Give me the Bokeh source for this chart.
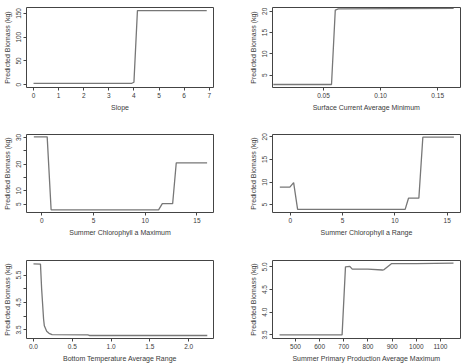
from bokeh.plotting import figure
from bokeh.models import Range1d, FixedTicker, NumeralTickFormatter
from bokeh.layouts import column, row
from bokeh.embed import file_html
from bokeh.resources import INLINE

# ---------------- data ----------------
ylabel = "Predicted Biomass (kg)"

slope_x = [0.0, 3.9, 4.0, 4.14, 6.9]
slope_y = [2.5, 2.5, 5.0, 156.0, 156.0]

scur_x = [0.006, 0.057, 0.0603, 0.063, 0.164]
scur_y = [2.8, 2.8, 20.3, 20.6, 20.7]

chlmax_x = [-0.77, 0.52, 0.9, 11.29, 11.65, 12.65, 13.0, 15.98]
chlmax_y = [30.2, 30.2, 2.9, 2.9, 5.2, 5.2, 20.5, 20.5]

chlrng_x = [-1.0, -0.04, 0.32, 0.7, 10.98, 11.3, 12.29, 12.67, 15.64]
chlrng_y = [8.9, 8.9, 9.9, 4.0, 4.0, 6.45, 6.45, 19.9, 19.9]

btemp_x = [0.0, 0.09, 0.105, 0.13, 0.14, 0.17, 0.2, 0.24, 0.7, 0.72, 2.24]
btemp_y = [5.91, 5.9, 5.0, 3.9, 3.65, 3.45, 3.38, 3.33, 3.32, 3.30, 3.30]

pprod_x = [434, 693, 707, 725, 735, 800, 860, 867, 897, 1000, 1154]
pprod_y = [3.5, 3.5, 5.0, 5.01, 4.95, 4.95, 4.93, 4.94, 5.07, 5.07, 5.08]

# axis ticks
slope_xt = [0, 1, 2, 3, 4, 5, 6, 7]
slope_yt = [0, 50, 100, 150]
scur_xt = [0.05, 0.10, 0.15]
scur_yt = [5, 10, 15, 20]
chlmax_xt = [0, 5, 10, 15]
chlmax_yt = [5, 10, 20, 30]
chlmax_yminor = [15, 25]
chlrng_xt = [0, 5, 10, 15]
chlrng_yt = [5, 10, 15, 20]
btemp_xt = [0.0, 0.5, 1.0, 1.5, 2.0]
btemp_yt = [3.5, 4.5, 5.5]
btemp_yminor = [4.0, 5.0]
pprod_xt = [500, 600, 700, 800, 900, 1000, 1100]
pprod_yt = [3.5, 4.0, 4.5, 5.0]

# axis ranges
slope_xr, slope_yr = (-0.28, 7.17), (-6.0, 162.5)
scur_xr, scur_yr = (0.0053, 0.170), (2.1, 20.9)
chlmax_xr, chlmax_yr = (-1.48, 16.6), (1.9, 31.1)
chlrng_xr, chlrng_yr = (-1.7, 16.27), (3.3, 20.5)
btemp_xr, btemp_yr = (-0.09, 2.32), (3.19, 6.03)
pprod_xr, pprod_yr = (405, 1183), (3.42, 5.14)

FONT = "Liberation Sans"
TXT = "#3a3a3a"
LINE = "#777777"
BOX = "#444444"

# layout geometry: (width, border_left, border_right) per column,
# (height, border_top, border_bottom) per row
COLS = [(237, 26, 24), (237, 35, 14)]
ROWS = [(121, 7, 34), (121, 13, 30), (122, 18, 24)]


def panel(xs, ys, xr, yr, xt, yt, xlab, c, r, yminor=None, xfmt=None, yfmt=None):
    w, bl, br = COLS[c]
    h, bt, bb = ROWS[r]
    p = figure(width=w, height=h, x_range=Range1d(*xr), y_range=Range1d(*yr),
               output_backend="svg", toolbar_location=None,
               min_border_left=bl, min_border_right=br,
               min_border_top=bt, min_border_bottom=bb)
    p.xgrid.visible = False
    p.ygrid.visible = False
    p.outline_line_color = BOX
    p.outline_line_width = 1
    p.background_fill_color = "white"
    p.border_fill_color = "white"
    p.line(xs, ys, line_color=LINE, line_width=1.3)

    p.xaxis.ticker = FixedTicker(ticks=xt)
    p.yaxis.ticker = FixedTicker(ticks=yt, minor_ticks=yminor or [])
    if xfmt:
        p.xaxis.formatter = NumeralTickFormatter(format=xfmt)
    if yfmt:
        p.yaxis.formatter = NumeralTickFormatter(format=yfmt)
    p.xaxis.axis_label = xlab
    p.yaxis.axis_label = ylabel
    p.yaxis.major_label_orientation = "vertical"
    for ax in (p.xaxis[0], p.yaxis[0]):
        ax.axis_line_color = None
        ax.major_tick_in = 0
        ax.major_tick_out = 3
        ax.minor_tick_in = 0
        ax.minor_tick_out = 3
        ax.major_tick_line_color = BOX
        ax.minor_tick_line_color = BOX
        ax.major_label_text_font = FONT
        ax.major_label_text_font_size = "6.5px"
        ax.major_label_text_color = TXT
        ax.major_label_standoff = 2
        ax.axis_label_text_font = FONT
        ax.axis_label_text_font_size = "7px"
        ax.axis_label_text_font_style = "normal"
        ax.axis_label_text_color = TXT
        ax.axis_label_standoff = 3
    return p


p1 = panel(slope_x, slope_y, slope_xr, slope_yr, slope_xt, slope_yt, "Slope", 0, 0)
p2 = panel(scur_x, scur_y, scur_xr, scur_yr, scur_xt, scur_yt,
           "Surface Current Average Minimum", 1, 0, xfmt="0.00")
p3 = panel(chlmax_x, chlmax_y, chlmax_xr, chlmax_yr, chlmax_xt, chlmax_yt,
           "Summer Chlorophyll a Maximum", 0, 1, yminor=chlmax_yminor)
p4 = panel(chlrng_x, chlrng_y, chlrng_xr, chlrng_yr, chlrng_xt, chlrng_yt,
           "Summer Chlorophyll a Range", 1, 1)
p5 = panel(btemp_x, btemp_y, btemp_xr, btemp_yr, btemp_xt, btemp_yt,
           "Bottom Temperature Average Range", 0, 2, yminor=btemp_yminor,
           xfmt="0.0", yfmt="0.0")
p6 = panel(pprod_x, pprod_y, pprod_xr, pprod_yr, pprod_xt, pprod_yt,
           "Summer Primary Production Average Maximum", 1, 2, yfmt="0.0")

layout = column(row(p1, p2), row(p3, p4), row(p5, p6))

open("out.html", "w").write(file_html(layout, INLINE))
